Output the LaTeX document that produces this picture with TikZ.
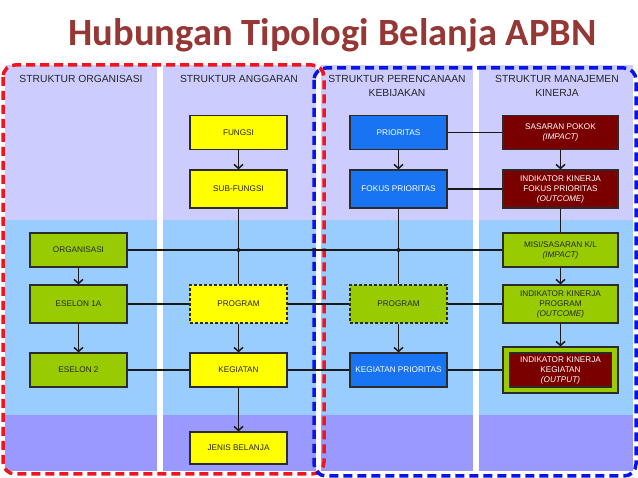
\documentclass[tikz,border=0pt]{standalone}
\usepackage{fontspec}
\setmainfont{Liberation Sans}
\newfontfamily\titlefont{Carlito}
\usetikzlibrary{arrows.meta}

\definecolor{titlered}{HTML}{953735}
\definecolor{bglav}{HTML}{CCCCFF}
\definecolor{bgsky}{HTML}{99CCFF}
\definecolor{bgviolet}{HTML}{9999FF}
\definecolor{boxyellow}{HTML}{FFFF00}
\definecolor{boxgreen}{HTML}{99CC00}
\definecolor{boxblue}{HTML}{1874F2}
\definecolor{boxmaroon}{HTML}{7A0000}
\definecolor{edgegray}{HTML}{2B2B2B}
\definecolor{framered}{HTML}{F0141E}
\definecolor{frameblue}{HTML}{0A14E6}

\tikzset{
  box/.style={draw=edgegray, line width=1.2pt, minimum width=97pt, minimum height=34pt,
              inner sep=1pt, align=center, font=\fontsize{8.2}{10}\selectfont},
  ybox/.style={box, fill=boxyellow, text=black!85},
  gbox/.style={box, fill=boxgreen, text=black!85},
  bbox/.style={box, fill=boxblue, text=white},
  rbox/.style={box, fill=boxmaroon, text=white},
  wide/.style={minimum width=115pt},
  tall/.style={minimum height=38pt},
  dashbox/.style={dash pattern=on 3pt off 2pt},
  head/.style={anchor=north, inner sep=0pt, align=center, text=black!85,
               font=\fontsize{10.3}{14}\selectfont},
  frame/.style={line width=3.5pt, rounded corners=12pt, dash pattern=on 9pt off 5pt},
  link/.style={line width=1.5pt, draw=black!90},
  arr/.style={link, -{Straight Barb[length=4pt,width=9pt]}}
}

\begin{document}
\begin{tikzpicture}[x=1pt,y=-1pt]
  \useasboundingbox (0,0) rectangle (638,478);
  \fill[white] (0,0) rectangle (638,478);

  \foreach \xa/\xb in {5/157,163/316,321/473,479/633} {
    \fill[bglav] (\xa,65) rectangle (\xb,220);
    \fill[bgsky] (\xa,220) rectangle (\xb,415);
    \fill[bgviolet] (\xa,415) rectangle (\xb,471);
  }

  \draw[frame, framered] (3,65) rectangle (324,474);
  \draw[frame, frameblue] (314,68) rectangle (636,476);

  \node[font=\titlefont\bfseries\fontsize{38.5}{40}\selectfont, text=titlered, anchor=base]
    (title) at (332.5,46) {Hubungan Tipologi Belanja APBN};

  \node[head] (hOrg) at (81,75) {STRUKTUR ORGANISASI};
  \node[head] (hAng) at (239,75) {STRUKTUR ANGGARAN};
  \node[head] (hRen) at (397,75) {STRUKTUR PERENCANAAN\\KEBIJAKAN};
  \node[head] (hKin) at (557,75) {STRUKTUR MANAJEMEN\\KINERJA};

  \node[ybox] (fungsi) at (238.5,132.5) {FUNGSI};
  \node[ybox, tall] (subfungsi) at (238.5,189) {SUB-FUNGSI};
  \node[ybox, tall, dashbox] (progAng) at (238.5,304) {PROGRAM};
  \node[ybox] (kegiatan) at (238.5,370) {KEGIATAN};
  \node[ybox, minimum height=32pt] (jenis) at (238.5,448) {JENIS BELANJA};

  \node[gbox] (organisasi) at (78.5,250) {ORGANISASI};
  \node[gbox, tall] (eselonA) at (78.5,304) {ESELON 1A};
  \node[gbox] (eselonB) at (78.5,370) {ESELON 2};

  \node[bbox] (prioritas) at (398.5,132.5) {PRIORITAS};
  \node[bbox, tall] (fokus) at (398.5,189) {FOKUS PRIORITAS};
  \node[gbox, tall, dashbox] (progRen) at (398.5,304) {PROGRAM};
  \node[bbox] (kegPrio) at (398.5,370) {KEGIATAN PRIORITAS};

  \node[rbox, wide] (sasaran) at (560.5,132.5) {SASARAN POKOK\\\textit{(IMPACT)}};
  \node[rbox, wide, tall] (ikFokus) at (560.5,189) {INDIKATOR KINERJA\\FOKUS PRIORITAS\\\textit{(OUTCOME)}};
  \node[gbox, wide] (misi) at (560.5,250) {MISI/SASARAN K/L\\\textit{(IMPACT)}};
  \node[gbox, wide, tall] (ikProg) at (560.5,304) {INDIKATOR KINERJA\\PROGRAM\\\textit{(OUTCOME)}};
  \node[gbox, wide, minimum height=46pt] (ikKeg) at (560.5,370) {};
  \node[rbox, minimum width=102pt] (ikKegIn) at (ikKeg.center) {INDIKATOR KINERJA\\KEGIATAN\\\textit{(OUTPUT)}};

  \draw[arr] (fungsi) -- (subfungsi);
  \draw[arr] (prioritas) -- (fokus);
  \draw[arr] (sasaran) -- (ikFokus);
  \draw[arr] (organisasi) -- (eselonA);
  \draw[arr] (eselonA) -- (eselonB);
  \draw[arr] (progAng) -- (kegiatan);
  \draw[arr] (kegiatan) -- (jenis);
  \draw[arr] (progRen) -- (kegPrio);
  \draw[arr] (misi) -- (ikProg);
  \draw[arr] (ikProg) -- (ikKeg);

  \draw[link] (subfungsi) -- (progAng);
  \draw[link] (fokus) -- (progRen);
  \draw[link] (ikFokus) -- (misi);
  \draw[link] (organisasi) -- (misi);
  \draw[link] (prioritas) -- (sasaran);
  \draw[link] (fokus) -- (ikFokus);
  \draw[link] (eselonA) -- (progAng);
  \draw[link] (progAng) -- (progRen);
  \draw[link] (progRen) -- (ikProg);
  \draw[link] (eselonB) -- (kegiatan);
  \draw[link] (kegiatan) -- (kegPrio);
  \draw[link] (kegPrio) -- (ikKeg);

  \fill[black!90] (subfungsi |- organisasi) circle (2pt);
  \fill[black!90] (fokus |- organisasi) circle (2pt);
\end{tikzpicture}
\end{document}
